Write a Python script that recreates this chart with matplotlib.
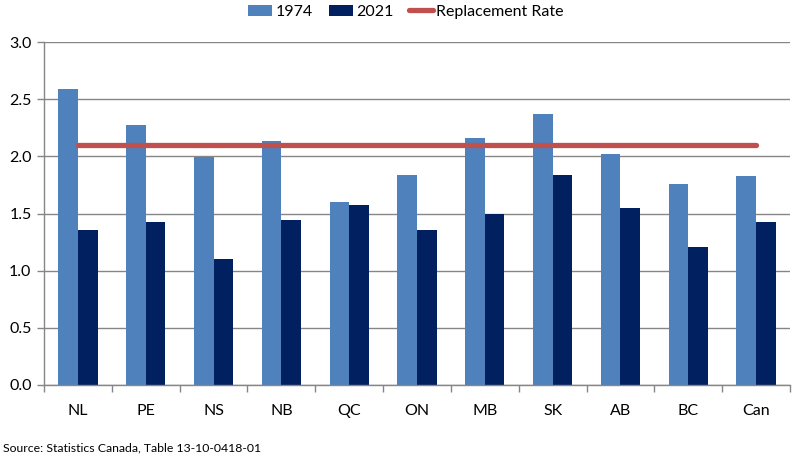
import matplotlib
matplotlib.use("Agg")
import matplotlib.pyplot as plt
import numpy as np
from matplotlib.patches import Patch
from matplotlib.lines import Line2D

categories = ["NL", "PE", "NS", "NB", "QC", "ON", "MB", "SK", "AB", "BC", "Can"]
values_1974 = [2.59, 2.27, 1.99, 2.13, 1.60, 1.84, 2.16, 2.37, 2.02, 1.76, 1.83]
values_2021 = [1.36, 1.43, 1.10, 1.44, 1.57, 1.36, 1.50, 1.84, 1.55, 1.21, 1.43]
replacement_rate = [2.1] * len(categories)
yticks = [0.0, 0.5, 1.0, 1.5, 2.0, 2.5, 3.0]

plt.rcParams["font.family"] = ["Lato", "DejaVu Sans"]

c1974 = "#4F81BD"
c2021 = "#002060"
cred = "#C0504D"
grid_c = "#868686"

W, H = 796, 462
fig = plt.figure(figsize=(W / 100, H / 100), dpi=100)
ax = fig.add_axes([44 / W, (H - 385) / H, (790 - 44) / W, (385 - 42) / H])

x = np.arange(len(categories))
bw = 0.29
ax.bar(x - bw / 2, values_1974, width=bw, color=c1974, zorder=2)
ax.bar(x + bw / 2, values_2021, width=bw, color=c2021, zorder=2)
ax.plot(x, replacement_rate, color=cred, lw=3.8, solid_capstyle="round", zorder=3)

ax.set_xlim(-0.5, len(categories) - 0.5)
ax.set_ylim(0, 3.0)
ax.set_yticks(yticks)
ax.set_yticklabels([f"{v:.1f}" for v in yticks], fontsize=11.5)
ax.yaxis.grid(True, color=grid_c, lw=1)
ax.set_axisbelow(True)

ax.set_xticks(x)
ax.set_xticklabels(categories, fontsize=11.5)
ax.set_xticks(np.arange(len(categories) + 1) - 0.5, minor=True)
ax.tick_params(axis="x", which="major", length=0, pad=14)
ax.tick_params(axis="x", which="minor", length=5, color=grid_c, width=1)
ax.tick_params(axis="y", length=5, color=grid_c, width=1, pad=4)

for s in ["top", "right"]:
    ax.spines[s].set_visible(False)
for s in ["left", "bottom"]:
    ax.spines[s].set_color(grid_c)
    ax.spines[s].set_linewidth(1)

handles = [
    Patch(facecolor=c1974, label="1974"),
    Patch(facecolor=c2021, label="2021"),
    Line2D([0], [0], color=cred, lw=3.8, solid_capstyle="round", label="Replacement Rate"),
]
fig.legend(handles=handles, loc="center", bbox_to_anchor=(406 / W, 1 - 12 / H), ncol=3,
           frameon=False, fontsize=11.5, handlelength=1.5, handleheight=0.7,
           handletextpad=0.2, columnspacing=1.0)

fig.text(3 / W, 1 - 448 / H, "Source: Statistics Canada, Table 13-10-0418-01", fontsize=8.8,
         va="center", ha="left")

fig.savefig("out.png", dpi=100)
